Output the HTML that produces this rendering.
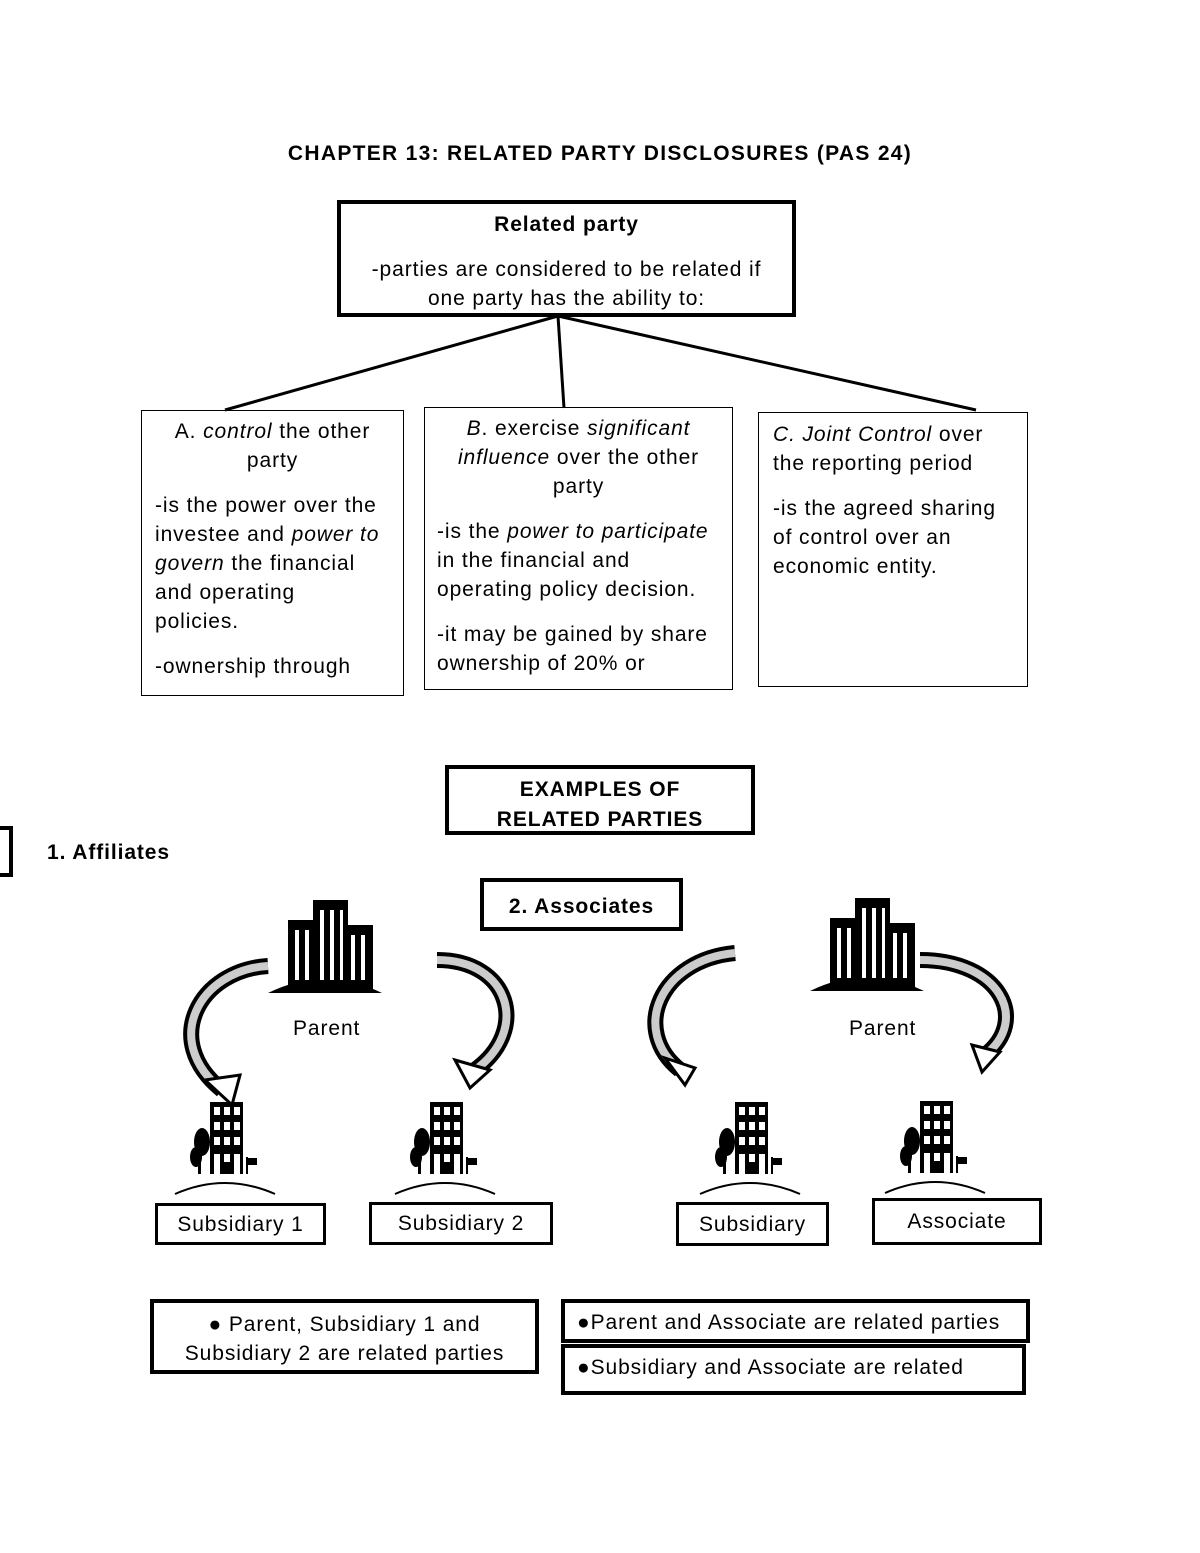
<!DOCTYPE html>
<html><head><meta charset="utf-8"><style>
body{margin:0;background:#fff;}
#p{position:relative;width:1200px;height:1553px;overflow:hidden;font-family:"Liberation Sans",sans-serif;color:#000;}
.a{position:absolute;box-sizing:border-box;}
.t{font-size:21px;line-height:29px;letter-spacing:0.9px;white-space:nowrap;}
.b{font-weight:bold;}
.g{margin-top:16px;}
</style></head><body><div id="p">
<div class="a b" style="left:0;width:1200px;top:142px;text-align:center;font-size:21px;letter-spacing:1.3px;">CHAPTER 13: RELATED PARTY DISCLOSURES (PAS 24)</div>
<svg class="a" style="left:0;top:0" width="1200" height="1553">
<g stroke="#000" stroke-width="3" fill="none">
<line x1="558" y1="316" x2="225" y2="410"/><line x1="558" y1="316" x2="564" y2="408"/><line x1="558" y1="316" x2="976" y2="410"/>
</g>
<defs>
<g id="big"><path d="M0 98 Q57 70 114 98 Z" fill="#000"/><rect x="20" y="25" width="30" height="70"/><rect x="45" y="5" width="35" height="88"/><rect x="75" y="30" width="30" height="65"/>
<g fill="#fff"><rect x="27" y="35" width="4" height="50"/><rect x="37" y="35" width="4" height="50"/><rect x="52" y="15" width="4" height="70"/><rect x="62" y="15" width="4" height="70"/><rect x="72" y="15" width="3" height="70"/><rect x="83" y="40" width="4" height="45"/><rect x="93" y="40" width="4" height="45"/></g></g>
<g id="small"><path d="M-15 92 Q35 70 85 92" stroke="#000" stroke-width="2" fill="none"/><rect x="20" y="0" width="33" height="72"/>
<g fill="#fff"><rect x="24" y="5" width="6" height="8"/><rect x="34" y="5" width="6" height="8"/><rect x="44" y="5" width="6" height="8"/><rect x="24" y="20" width="6" height="8"/><rect x="34" y="20" width="6" height="8"/><rect x="44" y="20" width="6" height="8"/><rect x="24" y="35" width="6" height="8"/><rect x="34" y="35" width="6" height="8"/><rect x="44" y="35" width="6" height="8"/><rect x="24" y="52" width="6" height="20"/><rect x="34" y="52" width="6" height="8"/><rect x="44" y="52" width="6" height="20"/></g>
<ellipse cx="12" cy="40" rx="8" ry="14"/><ellipse cx="6" cy="55" rx="6" ry="10"/><rect x="8" y="50" width="3" height="22"/><rect x="56" y="55" width="2" height="17"/><rect x="58" y="56" width="9" height="7"/></g>
</defs>
<use href="#big" x="268" y="895"/><use href="#big" x="810" y="893"/>
<use href="#small" x="190" y="1102"/><use href="#small" x="410" y="1102"/><use href="#small" x="715" y="1102"/><use href="#small" x="900" y="1101"/>
<g fill="none" stroke-linecap="butt">
<path d="M268 966 C200 970 160 1040 222 1090" stroke="#000" stroke-width="16"/><path d="M268 966 C200 970 160 1040 222 1090" stroke="#ccc" stroke-width="8"/>
<path d="M437 960 C510 960 530 1030 475 1070" stroke="#000" stroke-width="16"/><path d="M437 960 C510 960 530 1030 475 1070" stroke="#ccc" stroke-width="8"/>
<path d="M735 953 C660 960 630 1030 680 1070" stroke="#000" stroke-width="16"/><path d="M735 953 C660 960 630 1030 680 1070" stroke="#ccc" stroke-width="8"/>
<path d="M920 960 C1000 960 1030 1020 985 1055" stroke="#000" stroke-width="16"/><path d="M920 960 C1000 960 1030 1020 985 1055" stroke="#ccc" stroke-width="8"/>
</g>
<g fill="#fff" stroke="#000" stroke-width="3">
<polygon points="205,1080 240,1075 232,1105"/><polygon points="455,1060 490,1070 470,1088"/><polygon points="665,1058 695,1068 685,1085"/><polygon points="972,1045 1000,1052 982,1072"/>
</g>
</svg>
<div class="a t" style="left:337px;top:200px;width:459px;height:117px;border:4px solid #000;text-align:center;padding-top:6px;"><div class="b">Related party</div><div class="g">-parties are considered to be related if<br>one party has the ability to:</div></div>
<div class="a t" style="left:141px;top:410px;width:263px;height:286px;border:1px solid #000;padding:6px 13px;overflow:hidden;"><div style="text-align:center;">A. <i>control</i> the other<br>party</div><div class="g">-is the power over the<br>investee and <i>power to</i><br><i>govern</i> the financial<br>and operating<br>policies.</div><div class="g">-ownership through</div></div>
<div class="a t" style="left:424px;top:407px;width:309px;height:283px;border:1px solid #000;padding:6px 12px;overflow:hidden;"><div style="text-align:center;"><i>B</i>. exercise <i>significant</i><br><i>influence</i> over the other<br>party</div><div class="g">-is the <i>power to participate</i><br>in the financial and<br>operating policy decision.</div><div class="g">-it may be gained by share<br>ownership of 20% or</div></div>
<div class="a t" style="left:758px;top:412px;width:270px;height:275px;border:1px solid #000;padding:7px 14px;"><div><i>C. Joint Control</i> over<br>the reporting period</div><div class="g">-is the agreed sharing<br>of control over an<br>economic entity.</div></div>
<div class="a t b" style="left:445px;top:765px;width:310px;height:70px;border:4px solid #000;text-align:center;padding-top:6px;line-height:30px;">EXAMPLES OF<br>RELATED PARTIES</div>
<div class="a" style="left:-20px;top:826px;width:33px;height:51px;border:4px solid #000;"></div>
<div class="a t b" style="left:47px;top:838px;">1. Affiliates</div>
<div class="a t b" style="left:480px;top:878px;width:203px;height:53px;border:4px solid #000;text-align:center;padding-top:10px;">2. Associates</div>
<div class="a t" style="left:293px;top:1014px;">Parent</div><div class="a t" style="left:849px;top:1014px;">Parent</div>
<div class="a t" style="left:155px;top:1203px;width:171px;height:42px;border:3px solid #000;text-align:center;padding-top:4px;">Subsidiary 1</div>
<div class="a t" style="left:369px;top:1202px;width:184px;height:43px;border:3px solid #000;text-align:center;padding-top:4px;">Subsidiary 2</div>
<div class="a t" style="left:676px;top:1202px;width:153px;height:44px;border:3px solid #000;text-align:center;padding-top:5px;">Subsidiary</div>
<div class="a t" style="left:872px;top:1198px;width:170px;height:47px;border:3px solid #000;text-align:center;padding-top:6px;">Associate</div>
<div class="a t" style="left:150px;top:1299px;width:389px;height:75px;border:4px solid #000;text-align:center;padding-top:7px;">● Parent, Subsidiary 1 and<br>Subsidiary 2 are related parties</div>
<div class="a t" style="left:561px;top:1299px;width:469px;height:44px;border:4px solid #000;padding:5px 0 0 12px;">●Parent and Associate are related parties</div>
<div class="a t" style="left:561px;top:1344px;width:465px;height:51px;border:4px solid #000;padding:5px 0 0 12px;">●Subsidiary and Associate are related</div>
</div></body></html>
